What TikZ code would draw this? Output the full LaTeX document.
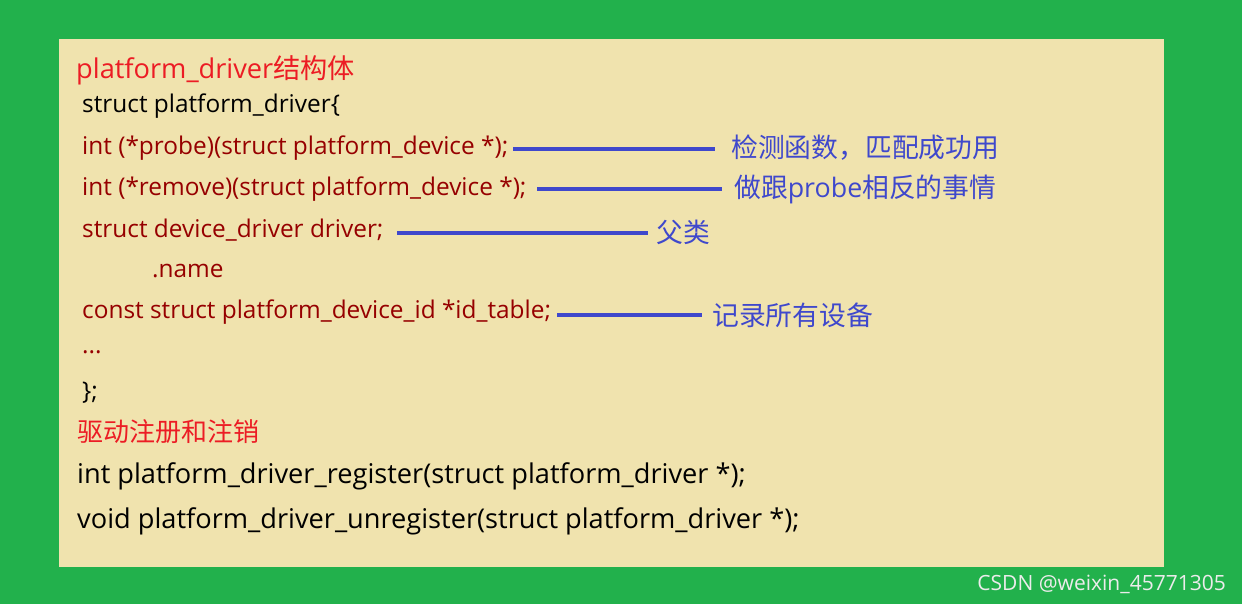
\documentclass[tikz,border=0pt]{standalone}
\usepackage{fontspec}
\setmainfont{Open Sans}
\newfontfamily\cjk{Noto Sans CJK SC}
\definecolor{bgg}{RGB}{34,177,76}
\definecolor{pap}{RGB}{240,227,174}
\definecolor{dred}{RGB}{150,0,0}
\definecolor{tred}{RGB}{236,28,36}
\definecolor{lblue}{RGB}{63,72,204}
\begin{document}
\begin{tikzpicture}[x=1pt,y=-1pt,
  t/.style={anchor=west,inner sep=0pt,font=\fontsize{24.4}{28}\selectfont},
  big/.style={anchor=west,inner sep=0pt,font=\fontsize{27.2}{30}\selectfont},
  lab/.style={anchor=west,inner sep=0pt,text=lblue,font=\cjk\fontsize{26.8}{30}\selectfont},
  bl/.style={draw=lblue,line width=4pt}]
\useasboundingbox (0,0) rectangle (1242,604);
\fill[bgg] (0,0) rectangle (1242,604);
\fill[pap] (59,39) rectangle (1164,567);
\node[big,text=tred] (title) at (76,70) {platform\_driver{\cjk 结构体}};
\node[t] (s) at (82,106) {struct platform\_driver\{};
\node[t,text=dred] (probe) at (82,148) {int (*probe)(struct platform\_device *);};
\node[t,text=dred] (remove) at (82,189) {int (*remove)(struct platform\_device *);};
\node[t,text=dred] (dd) at (82,230) {struct device\_driver driver;};
\node[t,text=dred] (name) at (152,271) {.name};
\node[t,text=dred] (idt) at (82,312) {const struct platform\_device\_id *id\_table;};
\node[t,text=dred] (dots) at (82,352) {...};
\node[t] (close) at (82,393) {\};};
\node[big,text=tred,font=\cjk\fontsize{26}{30}\selectfont] (reg) at (77,432) {驱动注册和注销};
\node[big] (r1) at (77,476) {int platform\_driver\_register(struct platform\_driver *);};
\node[big] (r2) at (77,521) {void platform\_driver\_unregister(struct platform\_driver *);};
\node[lab] (l1) at (731,148) {检测函数，匹配成功用};
\node[lab] (l2) at (734,189) {做跟{\fontspec{Open Sans}probe}相反的事情};
\node[lab] (l3) at (656,232) {父类};
\node[lab] (l4) at (712,315) {记录所有设备};
\draw[bl] (513,149) -- (715,149);
\draw[bl] (537,189) -- (722,189);
\draw[bl] (397,233) -- (648,233);
\draw[bl] (557,315) -- (702,315);
\node[anchor=east,inner sep=0pt,text=white!85!gray,font=\fontsize{21}{24}\selectfont] (wm) at (1226,584) {CSDN @weixin\_45771305};
\end{tikzpicture}
\end{document}
